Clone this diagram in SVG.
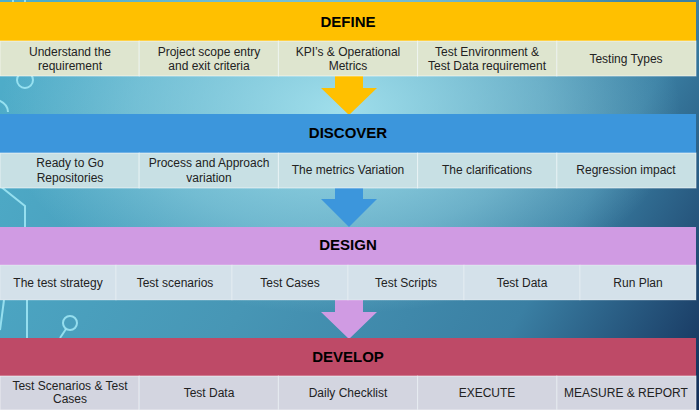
<svg xmlns="http://www.w3.org/2000/svg" width="699" height="410" viewBox="0 0 699 410">
<defs>
<linearGradient id="bg" x1="0" y1="0" x2="699" y2="410" gradientUnits="userSpaceOnUse">
<stop offset="0" stop-color="#4FAFCB"/>
<stop offset="0.45" stop-color="#4796B5"/>
<stop offset="0.75" stop-color="#3A7FA3"/>
<stop offset="1" stop-color="#132E58"/>
</linearGradient>
<radialGradient id="hl" cx="340" cy="110" r="340" gradientUnits="userSpaceOnUse" gradientTransform="translate(340 110) scale(1 0.6) translate(-340 -110)">
<stop offset="0" stop-color="#A4E2EE" stop-opacity="0.95"/>
<stop offset="0.6" stop-color="#A4E2EE" stop-opacity="0.45"/>
<stop offset="1" stop-color="#A4E2EE" stop-opacity="0"/>
</radialGradient>
<style>
.hd{font-family:"Liberation Sans",Arial,sans-serif;font-weight:bold;font-size:15px;fill:#000;text-anchor:middle}
.tx{font-family:"Liberation Sans",Arial,sans-serif;font-size:12px;fill:#222;text-anchor:middle}
.cell{stroke:#FFFFFF;stroke-opacity:0.55;stroke-width:1}
.deco{fill:none;stroke:#A8EEFA;stroke-width:2;stroke-opacity:0.8}
.c1{fill:#DEE5CF}.c2{fill:#C8E0E4}.c3{fill:#D4E1EA;stroke-opacity:0.3}.c4{fill:#D3D5E0}
</style>
</defs>
<rect x="0" y="0" width="699" height="410" fill="url(#bg)"/>
<rect x="0" y="0" width="699" height="410" fill="url(#hl)"/>
<g id="decor">
<path class="deco" d="M25 0 V72"/>
<circle class="deco" cx="25" cy="80" r="8"/>
<path class="deco" d="M-2 100 Q8 104 8 112"/>
<path class="deco" d="M13 0 V5"/>
<path class="deco" d="M0 186 L25 206 V228"/>
<path class="deco" d="M25 265 V300"/>
<path class="deco" d="M27 300 V338"/>
<path class="deco" d="M0 330 L4 300"/>
<circle class="deco" cx="70" cy="323" r="7"/>
<path class="deco" d="M66 329 L60 338"/>
</g>
<g id="connectors">
<polygon fill="#FFC000" points="335,76 363,76 363,88 377,88 349,115 321,88 335,88"/>
<polygon fill="#3C96DC" points="335,188 363,188 363,199 377,199 349,227 321,199 335,199"/>
<polygon fill="#D09BE3" points="335,300 363,300 363,312 377,312 349,339 321,312 335,312"/>
</g>
<g id="define">
<rect x="0" y="2" width="696" height="39" fill="#FFC000"/>
<text class="hd" x="348" y="27">DEFINE</text>
<rect class="cell c1" x="0" y="41" width="139.2" height="35"/>
<rect class="cell c1" x="139.2" y="41" width="139.2" height="35"/>
<rect class="cell c1" x="278.4" y="41" width="139.2" height="35"/>
<rect class="cell c1" x="417.6" y="41" width="139.2" height="35"/>
<rect class="cell c1" x="556.8" y="41" width="139.2" height="35"/>
<text class="tx" x="70" y="56">Understand the</text>
<text class="tx" x="70" y="70">requirement</text>
<text class="tx" x="209" y="56">Project scope entry</text>
<text class="tx" x="209" y="70">and exit criteria</text>
<text class="tx" x="348" y="56">KPI’s &amp; Operational</text>
<text class="tx" x="348" y="70">Metrics</text>
<text class="tx" x="487" y="56">Test Environment &amp;</text>
<text class="tx" x="487" y="70">Test Data requirement</text>
<text class="tx" x="626" y="63">Testing Types</text>
</g>
<g id="discover">
<rect x="0" y="114" width="696" height="39" fill="#3C96DC"/>
<text class="hd" x="348" y="138">DISCOVER</text>
<rect class="cell c2" x="0" y="153" width="139.2" height="35"/>
<rect class="cell c2" x="139.2" y="153" width="139.2" height="35"/>
<rect class="cell c2" x="278.4" y="153" width="139.2" height="35"/>
<rect class="cell c2" x="417.6" y="153" width="139.2" height="35"/>
<rect class="cell c2" x="556.8" y="153" width="139.2" height="35"/>
<text class="tx" x="70" y="167">Ready to Go</text>
<text class="tx" x="70" y="182">Repositories</text>
<text class="tx" x="209" y="167">Process and Approach</text>
<text class="tx" x="209" y="182">variation</text>
<text class="tx" x="348" y="174">The metrics Variation</text>
<text class="tx" x="487" y="174">The clarifications</text>
<text class="tx" x="626" y="174">Regression impact</text>
</g>
<g id="design">
<rect x="0" y="227" width="696" height="38" fill="#D09BE3"/>
<text class="hd" x="348" y="250">DESIGN</text>
<rect class="cell c3" x="0" y="265" width="116" height="35"/>
<rect class="cell c3" x="116" y="265" width="116" height="35"/>
<rect class="cell c3" x="232" y="265" width="116" height="35"/>
<rect class="cell c3" x="348" y="265" width="116" height="35"/>
<rect class="cell c3" x="464" y="265" width="116" height="35"/>
<rect class="cell c3" x="580" y="265" width="116" height="35"/>
<text class="tx" x="58" y="287">The test strategy</text>
<text class="tx" x="175" y="287">Test scenarios</text>
<text class="tx" x="290" y="287">Test Cases</text>
<text class="tx" x="406" y="287">Test Scripts</text>
<text class="tx" x="522" y="287">Test Data</text>
<text class="tx" x="638" y="287">Run Plan</text>
</g>
<g id="develop">
<rect x="0" y="338" width="696" height="38" fill="#BE4A67"/>
<text class="hd" x="348" y="362">DEVELOP</text>
<rect class="cell c4" x="0" y="376" width="139.2" height="34"/>
<rect class="cell c4" x="139.2" y="376" width="139.2" height="34"/>
<rect class="cell c4" x="278.4" y="376" width="139.2" height="34"/>
<rect class="cell c4" x="417.6" y="376" width="139.2" height="34"/>
<rect class="cell c4" x="556.8" y="376" width="139.2" height="34"/>
<text class="tx" x="70" y="390">Test Scenarios &amp; Test</text>
<text class="tx" x="70" y="403">Cases</text>
<text class="tx" x="209" y="397">Test Data</text>
<text class="tx" x="348" y="397">Daily Checklist</text>
<text class="tx" x="487" y="397">EXECUTE</text>
<text class="tx" x="626" y="397">MEASURE &amp; REPORT</text>
</g>
</svg>
